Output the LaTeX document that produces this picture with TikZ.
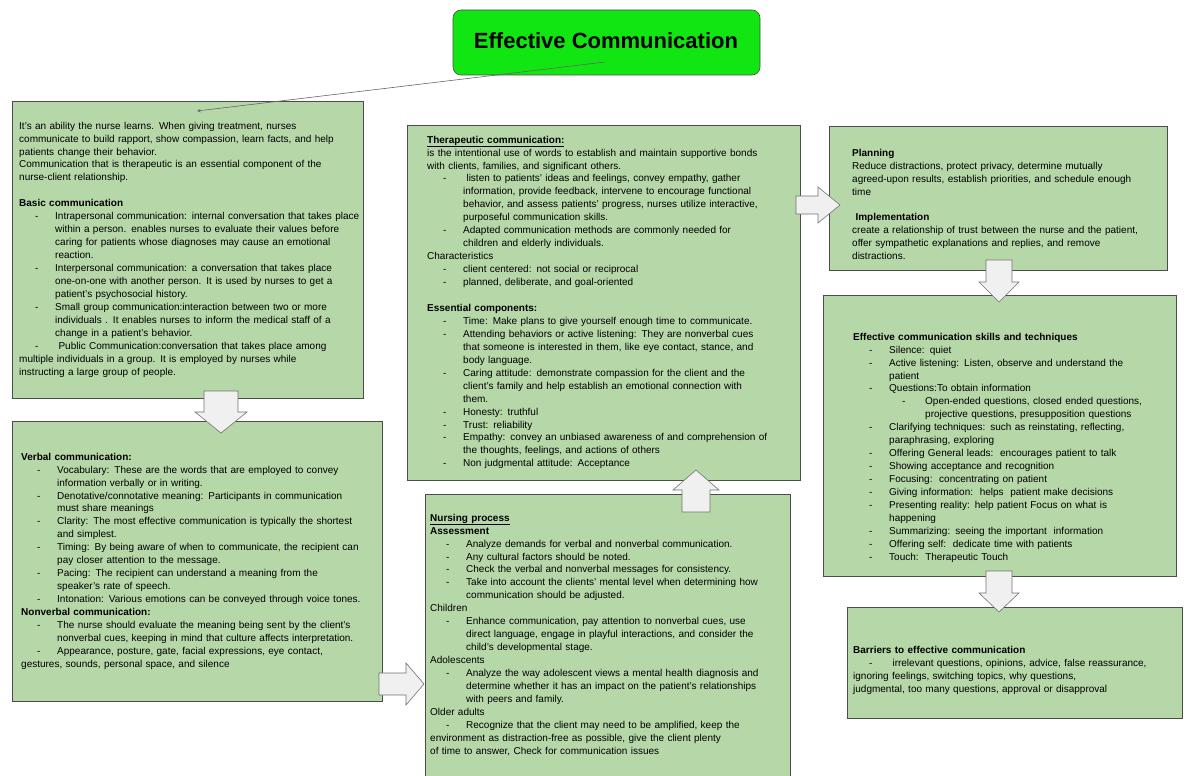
\documentclass[tikz,border=0pt]{standalone}
\usepackage{fontspec}
\setmainfont{Liberation Sans}
\definecolor{boxg}{HTML}{B6D7A8}
\definecolor{titleg}{HTML}{12E612}
\definecolor{arrg}{HTML}{F0F0F0}
\newcommand\bl[1]{\par\hangindent=36pt\hangafter=1\noindent\hspace*{16pt}\makebox[20pt][l]{-}#1}
\newcommand\sbl[1]{\par\hangindent=72pt\hangafter=1\noindent\hspace*{49pt}\makebox[23pt][l]{-}#1}
\newcommand\pl[1]{\par\noindent #1}
\newcommand\blank{\par\noindent\mbox{}}
\newcommand\nl{\newline}
\begin{document}
\begin{tikzpicture}[x=1pt,y=-1pt,
  gbox/.style={draw=black!70,fill=boxg,line width=0.6pt},
  txt/.style={anchor=north west,inner sep=0pt,align=left,text width=#1,font=\fontsize{10}{12.95}\selectfont},
  blk/.style={draw=black!55,fill=arrg,line width=0.6pt}]
\useasboundingbox (0,0) rectangle (1200,776);
\fill[white] (0,0) rectangle (1200,776);
% title
\draw[draw=black!70,fill=titleg,rounded corners=8pt,line width=0.6pt] (453,10) rectangle (760,75);
\node[font=\bfseries\fontsize{22}{26}\selectfont] (title) at (606,41) {Effective Communication};
\coordinate (ta) at (605,62);
% boxes
\draw[gbox] (12,101) rectangle (363,398);
\draw[gbox] (12,421) rectangle (382,701);
\draw[gbox] (407,125) rectangle (800,480);
\draw[gbox] (425,494) rectangle (790,780);
\draw[gbox] (829,126) rectangle (1167,270);
\draw[gbox] (823,295) rectangle (1176,576);
\draw[gbox] (847,607) rectangle (1182,718);
\coordinate (tb) at (197,111);
\draw[black!60,line width=0.6pt,-stealth] (ta) -- (tb);
% block arrows
\draw[blk] (204,391) -- (204,412) -- (195,412) -- (221,433) -- (247,412) -- (238,412) -- (238,391) -- cycle;
\draw[blk] (379,673) -- (406,673) -- (406,663) -- (424,684) -- (406,705) -- (406,695) -- (379,695) -- cycle;
\draw[blk] (682,512) -- (682,490) -- (673,490) -- (696,470) -- (719,490) -- (710,490) -- (710,512) -- cycle;
\draw[blk] (796,196) -- (818,196) -- (818,187) -- (840,205) -- (818,223) -- (818,214) -- (796,214) -- cycle;
\draw[blk] (986,260) -- (986,282) -- (979,282) -- (999,302) -- (1019,282) -- (1012,282) -- (1012,260) -- cycle;
\draw[blk] (986,571) -- (986,593) -- (979,593) -- (999,612) -- (1019,593) -- (1012,593) -- (1012,571) -- cycle;
% box1
\node[txt=345pt] (b1) at (19,116) {%
\pl{It's an ability the nurse learns. When giving treatment, nurses\nl communicate to build rapport, show compassion, learn facts, and help\nl patients change their behavior.}
\pl{Communication that is therapeutic is an essential component of the\nl nurse-client relationship.}
\blank
\pl{\textbf{Basic communication}}
\bl{Intrapersonal communication: internal conversation that takes place\nl within a person. enables nurses to evaluate their values before\nl caring for patients whose diagnoses may cause an emotional\nl reaction.}
\bl{Interpersonal communication: a conversation that takes place\nl one-on-one with another person. It is used by nurses to get a\nl patient's psychosocial history.}
\bl{Small group communication:interaction between two or more\nl individuals . It enables nurses to inform the medical staff of a\nl change in a patient's behavior.}
\bl{\ Public Communication:conversation that takes place among\nl multiple individuals in a group. It is employed by nurses while\nl instructing a large group of people.}};
% box2
\node[txt=362pt] (b2) at (21,447) {%
\pl{\textbf{Verbal communication:}}
\bl{Vocabulary: These are the words that are employed to convey\nl information verbally or in writing.}
\bl{Denotative/connotative meaning: Participants in communication\nl must share meanings}
\bl{Clarity: The most effective communication is typically the shortest\nl and simplest.}
\bl{Timing: By being aware of when to communicate, the recipient can\nl pay closer attention to the message.}
\bl{Pacing: The recipient can understand a meaning from the\nl speaker's rate of speech.}
\bl{Intonation: Various emotions can be conveyed through voice tones.}
\pl{\textbf{Nonverbal communication:}}
\bl{The nurse should evaluate the meaning being sent by the client's\nl nonverbal cues, keeping in mind that culture affects interpretation.}
\bl{Appearance, posture, gate, facial expressions, eye contact,\nl gestures, sounds, personal space, and silence}};
% box3
\node[txt=375pt] (b3) at (427,130) {%
\pl{\textbf{\underline{Therapeutic communication:}}}
\pl{is the intentional use of words to establish and maintain supportive bonds\nl with clients, families, and significant others.}
\bl{\ listen to patients' ideas and feelings, convey empathy, gather\nl information, provide feedback, intervene to encourage functional\nl behavior, and assess patients' progress, nurses utilize interactive,\nl purposeful communication skills.}
\bl{Adapted communication methods are commonly needed for\nl children and elderly individuals.}
\pl{Characteristics}
\bl{client centered: not social or reciprocal}
\bl{planned, deliberate, and goal-oriented}
\blank
\pl{\textbf{Essential components:}}
\bl{Time: Make plans to give yourself enough time to communicate.}
\bl{Attending behaviors or active listening: They are nonverbal cues\nl that someone is interested in them, like eye contact, stance, and\nl body language.}
\bl{Caring attitude: demonstrate compassion for the client and the\nl client's family and help establish an emotional connection with\nl them.}
\bl{Honesty: truthful}
\bl{Trust: reliability}
\bl{Empathy: convey an unbiased awareness of and comprehension of\nl the thoughts, feelings, and actions of others}
\bl{Non judgmental attitude: Acceptance}};
% box4
\node[txt=360pt] (b4) at (430,508) {%
\pl{\textbf{\underline{Nursing process}}}
\pl{\textbf{Assessment}}
\bl{Analyze demands for verbal and nonverbal communication.}
\bl{Any cultural factors should be noted.}
\bl{Check the verbal and nonverbal messages for consistency.}
\bl{Take into account the clients' mental level when determining how\nl communication should be adjusted.}
\pl{Children}
\bl{Enhance communication, pay attention to nonverbal cues, use\nl direct language, engage in playful interactions, and consider the\nl child's developmental stage.}
\pl{Adolescents}
\bl{Analyze the way adolescent views a mental health diagnosis and\nl determine whether it has an impact on the patient's relationships\nl with peers and family.}
\pl{Older adults}
\bl{Recognize that the client may need to be amplified, keep the\nl environment as distraction-free as possible, give the client plenty\nl of time to answer, Check for communication issues}};
% box5
\node[txt=315pt] (b5) at (852,143) {%
\pl{\textbf{Planning}}
\pl{Reduce distractions, protect privacy, determine mutually\nl agreed-upon results, establish priorities, and schedule enough\nl time}
\blank
\pl{\textbf{\ Implementation}}
\pl{create a relationship of trust between the nurse and the patient,\nl offer sympathetic explanations and replies, and remove\nl distractions.}};
% box6
\node[txt=322pt] (b6) at (853,327) {%
\pl{\textbf{Effective communication skills and techniques}}
\bl{Silence: quiet}
\bl{Active listening: Listen, observe and understand the\nl patient}
\bl{Questions:To obtain information}
\sbl{Open-ended questions, closed ended questions,\nl projective questions, presupposition questions}
\bl{Clarifying techniques: such as reinstating, reflecting,\nl paraphrasing, exploring}
\bl{Offering General leads:\ \ encourages patient to talk}
\bl{Showing acceptance and recognition}
\bl{Focusing:\ \ concentrating on patient}
\bl{Giving information:\ \ helps\ \ patient make decisions}
\bl{Presenting reality: help patient Focus on what is\nl happening}
\bl{Summarizing: seeing the important\ \ information}
\bl{Offering self:\ \ dedicate time with patients}
\bl{Touch:\ \ Therapeutic Touch}};
% box7
\node[txt=325pt] (b7) at (853,640) {%
\pl{\textbf{Barriers to effective communication}}
\bl{\ irrelevant questions, opinions, advice, false reassurance,\nl ignoring feelings, switching topics, why questions,\nl judgmental, too many questions, approval or disapproval}};
\end{tikzpicture}
\end{document}
